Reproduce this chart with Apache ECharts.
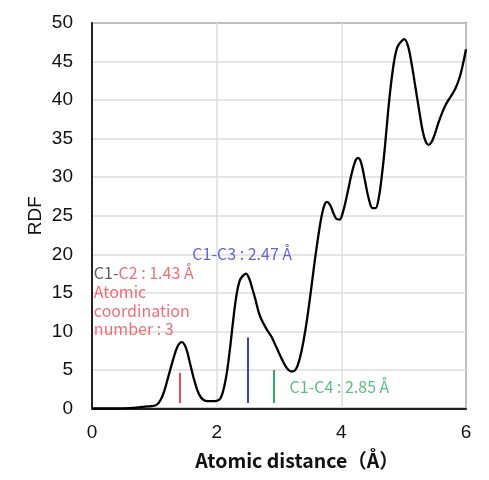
<!DOCTYPE html>
<html>
<head>
<meta charset="utf-8">
<script src="https://cdn.jsdelivr.net/npm/echarts@6/dist/echarts.min.js"></script>
<style>
html,body{margin:0;padding:0;background:#fff;}
#chart{width:489px;height:480px;}
</style>
</head>
<body>
<div id="chart"></div>
<script>
// RDF curve (Atomic distance in Å, RDF value)
const distance = [0, 0.2, 0.4, 0.6, 0.75, 0.85, 0.95, 1.04, 1.1, 1.16, 1.22, 1.3, 1.37, 1.44, 1.51, 1.58, 1.65, 1.72, 1.79, 1.86, 1.93, 2.0, 2.06, 2.12, 2.17, 2.22, 2.27, 2.32, 2.37, 2.42, 2.47, 2.52, 2.57, 2.62, 2.67, 2.72, 2.8, 2.88, 2.96, 3.04, 3.12, 3.2, 3.25, 3.3, 3.36, 3.43, 3.5, 3.56, 3.62, 3.68, 3.73, 3.77, 3.82, 3.87, 3.92, 3.97, 4.03, 4.1, 4.17, 4.23, 4.27, 4.32, 4.38, 4.44, 4.5, 4.55, 4.6, 4.65, 4.7, 4.75, 4.8, 4.85, 4.9, 4.95, 5.01, 5.07, 5.13, 5.19, 5.25, 5.31, 5.36, 5.4, 5.45, 5.5, 5.56, 5.62, 5.68, 5.75, 5.83, 5.9, 5.96, 6.0];
const rdf = [0, 0, 0, 0.05, 0.15, 0.25, 0.3, 0.5, 1.1, 2.3, 4.0, 6.3, 8.0, 8.6, 7.8, 5.6, 3.4, 1.8, 1.1, 0.95, 0.95, 1.0, 1.3, 2.8, 5.0, 8.2, 11.8, 14.8, 16.6, 17.2, 17.5, 16.9, 15.6, 14.2, 12.6, 11.5, 10.3, 9.3, 7.9, 6.5, 5.3, 4.8, 4.9, 5.6, 7.4, 10.5, 14.5, 18.3, 21.8, 24.8, 26.4, 26.8, 26.4, 25.4, 24.6, 24.5, 25.6, 28.0, 30.6, 32.2, 32.5, 31.8, 29.5, 27.2, 26.0, 26.0, 27.3, 30.2, 34.0, 38.5, 42.3, 45.2, 46.9, 47.5, 47.9, 47.0, 44.6, 41.6, 38.6, 35.8, 34.5, 34.2, 34.6, 35.6, 37.1, 38.4, 39.5, 40.4, 41.5, 43.0, 45.0, 46.6];

// Vertical marker lines (position, low, high)
const markerX = [1.41, 2.50, 2.91];
const markerLow = [0.7, 0.7, 0.7];
const markerHigh = [4.65, 9.2, 5.0];
const markerColors = ['#ef4a55', '#3f3fcf', '#33ad63'];

// Annotation texts anchored in data coordinates (left edge, vertical centre)
const annotationX = [0.03, 0.03, 0.03, 0.03, 1.61, 3.17];
const annotationY = [17.6, 15.15, 12.7, 10.3, 20.1, 2.85];
const annotationText = [
  '{k|C1-}{r|C2 : 1.43 Å}',
  '{r|Atomic}',
  '{r|coordination}',
  '{r|number : 3}',
  '{b|C1-C3 : 2.47 Å}',
  '{g|C1-C4 : 2.85 Å}'
];

// Axis ticks
const xTicks = [0, 2, 4, 6];
const yTicks = [0, 5, 10, 15, 20, 25, 30, 35, 40, 45, 50];

const chart = echarts.init(document.getElementById('chart'), null, {renderer: 'canvas'});

const curve = distance.map((d, i) => [d, rdf[i]]);
const markerData = markerX.map((x, i) => [
  {coord: [x, markerLow[i]], lineStyle: {color: markerColors[i], width: 2, type: 'solid'}},
  {coord: [x, markerHigh[i]]}
]);
const annData = annotationX.map((x, i) => ({value: [x, annotationY[i]], label: {formatter: annotationText[i]}}));

const annFont = '"Noto Sans CJK JP", "Noto Sans", sans-serif';
const rich = {
  k: {color: '#333333', fontSize: 16, fontFamily: annFont},
  r: {color: '#ef4a55', fontSize: 16, fontFamily: annFont},
  b: {color: '#3f3fcf', fontSize: 16, fontFamily: annFont},
  g: {color: '#33ad63', fontSize: 16, fontFamily: annFont}
};

chart.setOption({
  animation: false,
  backgroundColor: '#ffffff',
  grid: {left: 92, right: 23, top: 23, bottom: 71.5, show: true, borderColor: '#333333', borderWidth: 1.5, containLabel: false},
  xAxis: {
    type: 'value', min: xTicks[0], max: xTicks[xTicks.length - 1], interval: 2,
    name: 'Atomic distance（Å）', nameLocation: 'middle', nameGap: 42, nameMoveOverlap: false,
    nameTextStyle: {fontSize: 19.5, fontWeight: 'bold', color: '#111', fontFamily: '"Noto Sans CJK JP", "Liberation Sans", sans-serif', padding: [0, 0, 0, 36]},
    axisLine: {show: true, lineStyle: {color: '#222', width: 2}},
    axisTick: {show: false},
    axisLabel: {fontSize: 19, color: '#111', margin: 15, fontFamily: '"Liberation Sans", Arial, sans-serif'},
    splitLine: {show: true, lineStyle: {color: '#dcdcdc', width: 1.5}}
  },
  yAxis: {
    type: 'value', min: yTicks[0], max: yTicks[yTicks.length - 1], interval: 5,
    name: 'RDF', nameLocation: 'middle', nameGap: 47, nameRotate: 90, nameMoveOverlap: false,
    nameTextStyle: {fontSize: 19, color: '#111', fontFamily: '"Liberation Sans", Arial, sans-serif'},
    axisLine: {show: true, lineStyle: {color: '#222', width: 2}},
    axisTick: {show: false},
    axisLabel: {fontSize: 19, color: '#111', margin: 19, fontFamily: '"Liberation Sans", Arial, sans-serif'},
    splitLine: {show: true, lineStyle: {color: '#dcdcdc', width: 1.5}}
  },
  series: [
    {
      type: 'line', data: curve, smooth: 0.35, showSymbol: false, symbol: 'none',
      lineStyle: {color: '#000', width: 2.3}, z: 3,
      markLine: {silent: true, symbol: ['none', 'none'], label: {show: false}, data: markerData}
    },
    {
      type: 'scatter', data: annData, symbolSize: 0, silent: true, z: 5,
      label: {show: true, position: 'right', distance: 0, rich: rich}
    }
  ]
});
</script>
</body>
</html>
